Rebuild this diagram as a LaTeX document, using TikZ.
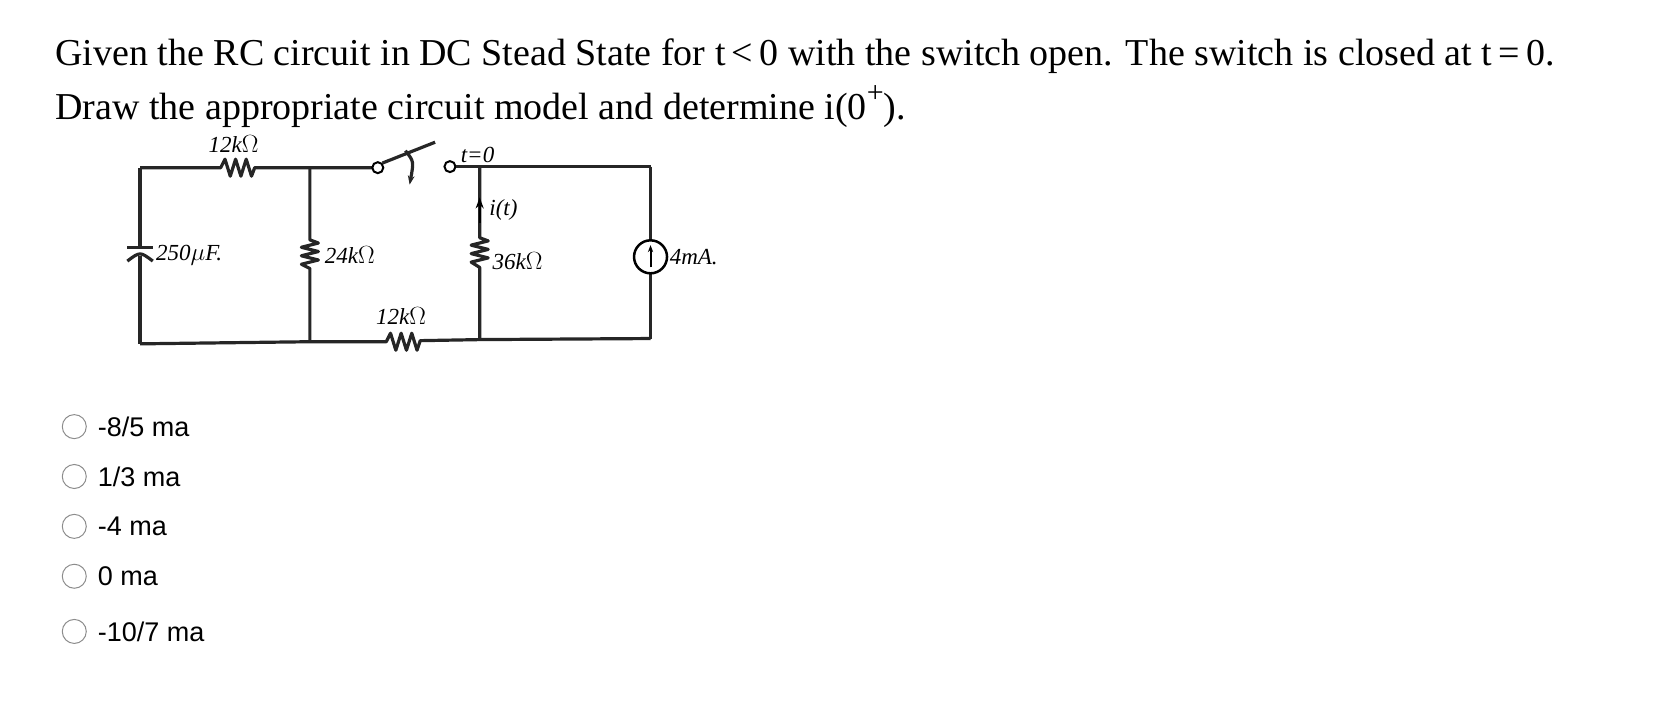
\documentclass[tikz,border=0pt]{standalone}
\usepackage{fontspec}
\setmainfont{Liberation Serif}
\setsansfont{Liberation Sans}
\usetikzlibrary{arrows.meta}
\begin{document}
\begin{tikzpicture}[x=1.0612pt,y=-1.0612pt,
  wire/.style={line width=3.2pt,black!85,line join=round},
  lbl/.style={font=\itshape\fontsize{23}{23}\selectfont,inner sep=1pt},
  opt/.style={font=\sffamily\fontsize{27}{27}\selectfont,anchor=west,inner sep=0pt},
  radio/.style={circle,draw=black!45,line width=1pt,minimum size=24pt,inner sep=0pt}]
\useasboundingbox (0,0) rectangle (1568,675);
\node[anchor=base west,inner sep=0pt,font=\fontsize{38}{38}\selectfont] (q1) at (52,62) {Given the RC circuit in DC Stead State for t\,<\,0 with the switch open. The switch is closed at t\,=\,0.};
\node[anchor=base west,inner sep=0pt,font=\fontsize{38}{38}\selectfont] (q2) at (52,113) {Draw the appropriate circuit model and determine i(0\raisebox{0.45em}{\fontsize{30}{30}\selectfont +}).};
% corners
\coordinate (tl) at (132,158); \coordinate (bl) at (132,324);
\coordinate (tm) at (292,158); \coordinate (bm) at (292,322);
\coordinate (s1) at (356,158); \coordinate (s2) at (424,157);
\coordinate (tr3) at (452,157); \coordinate (br3) at (452,320);
\coordinate (tr) at (613,157); \coordinate (br) at (613,319);
% top 12k
\draw[wire] (tl) -- (208,158) -- (212,150) -- (217,166) -- (222,150) -- (227,166) -- (232,150) -- (237,166) -- (240,158) -- (tm) -- (s1);
\node[lbl] (r1) at (220,136) {12k$\Omega$};
% switch
\node[circle,draw,line width=2pt,minimum size=11pt,inner sep=0pt,fill=white] (c1) at (s1) {};
\node[circle,draw,line width=2pt,minimum size=11pt,inner sep=0pt,fill=white] (c2) at (s2) {};
\draw[wire] (c1.north east) -- (410,134);
\draw[wire,-{Stealth[length=9pt]}] (382,142) .. controls (390,152) .. (386,174);
\node[lbl] (t0) at (450,146) {t=0};
\draw[wire] (c2) -- (tr3) -- (tr);
% capacitor branch
\draw[wire] (tl) -- (132,233); \draw[wire] (120,233) -- (144,233);
\draw[wire] (120,246) .. controls (132,237) .. (144,246);
\draw[wire] (132,241) -- (bl);
\node[lbl,anchor=west] (cap) at (146,241) {250$\mu$F.};
% 24k
\draw[wire] (tm) -- (292,226) -- (300,229) -- (284,233) -- (300,237) -- (284,241) -- (300,245) -- (284,249) -- (292,253) -- (bm);
\node[lbl,anchor=west] (r2) at (305,240) {24k$\Omega$};
% 36k
\draw[wire] (tr3) -- (452,224) -- (460,227) -- (444,231) -- (460,235) -- (444,239) -- (460,243) -- (444,247) -- (452,252) -- (br3);
\draw[line width=2pt,-{Stealth[length=11pt,width=8pt]}] (452,210) -- (452,186);
\node[lbl,anchor=west] (it) at (460,198) {i(t)};
\node[lbl,anchor=west] (r3) at (463,246) {36k$\Omega$};
% source
\draw[wire] (tr) -- (613,226); \draw[wire] (613,258) -- (br);
\node[circle,draw,line width=2.5pt,minimum size=33pt,inner sep=0pt] (src) at (613,242) {};
\draw[line width=2pt,-{Stealth[length=7pt]}] (613,252) -- (613,231);
\node[lbl,anchor=west] (i4) at (630,242) {4mA.};
% bottom
\draw[wire] (bl) -- (bm) -- (364,322) -- (368,314) -- (373,330) -- (378,314) -- (383,330) -- (388,314) -- (393,330) -- (396,321) -- (br3) -- (br);
\node[lbl] (r4) at (378,298) {12k$\Omega$};
% options
\foreach \y/\t [count=\i] in {402/-8\slash5 ma,449/1\slash3 ma,496/-4 ma,543/0 ma,595/-10\slash7 ma}{
  \node[radio] (o\i) at (70,\y) {};
  \node[opt] (ot\i) at (92,\y) {\t};
}
\end{tikzpicture}
\end{document}
